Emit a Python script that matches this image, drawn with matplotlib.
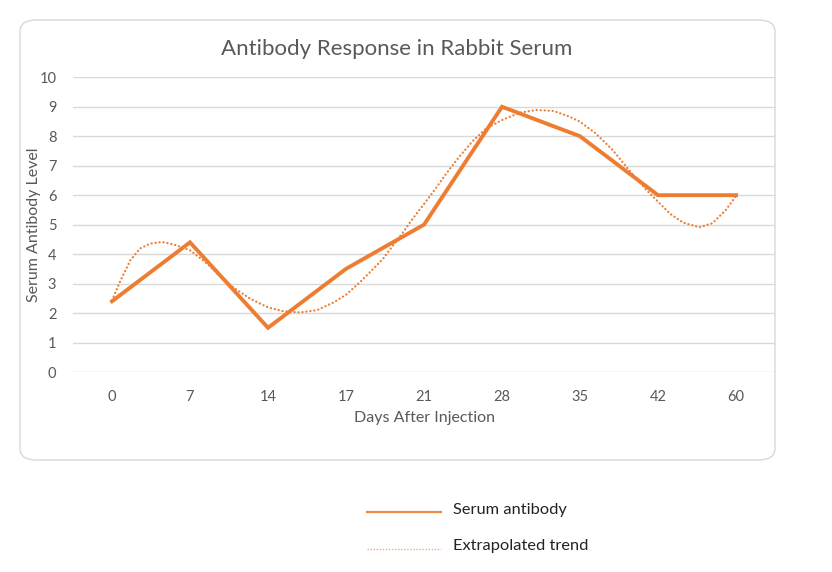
import numpy as np
import matplotlib.pyplot as plt
from matplotlib.patches import FancyBboxPatch
from matplotlib.lines import Line2D

# data
days = ["0", "7", "14", "17", "21", "28", "35", "42", "60"]
antibody = [2.4, 4.4, 1.5, 3.5, 5.0, 9.0, 8.0, 6.0, 6.0]

# trend curve, read at category positions (0 = first category)
trend_pos = [0, 0.11, 0.235, 0.36, 0.49, 0.64, 0.79, 1.0, 1.22, 1.39, 1.56, 1.77,
             2.0, 2.2, 2.41, 2.63, 2.84, 3.0, 3.18, 3.35, 3.48, 3.61, 3.74, 3.86,
             4.0, 4.12, 4.29, 4.46, 4.63, 4.8, 5.0, 5.23, 5.44, 5.66, 5.87, 6.0,
             6.2, 6.42, 6.63, 6.85, 7.0, 7.15, 7.32, 7.53, 7.7, 7.87, 8.0]
trend_val = [2.43, 3.11, 3.79, 4.19, 4.36, 4.41, 4.33, 4.13, 3.68, 3.23, 2.86, 2.49,
             2.19, 2.06, 2.02, 2.10, 2.36, 2.62, 3.05, 3.5, 3.86, 4.32, 4.77, 5.22,
             5.7, 6.12, 6.75, 7.33, 7.85, 8.27, 8.55, 8.80, 8.89, 8.86, 8.66, 8.49,
             8.10, 7.53, 6.85, 6.18, 5.78, 5.38, 5.07, 4.91, 5.05, 5.50, 5.97]

orange = "#ED7D31"
grey = "#595959"
plt.rcParams["font.family"] = ["Lato", "DejaVu Sans"]

W, H = 832, 572
fig = plt.figure(figsize=(W / 100, H / 100), dpi=100)

# rounded chart border
box = FancyBboxPatch((20 / W, 1 - 460 / H), 755 / W, 440 / H,
                     boxstyle="round,pad=0,rounding_size=0.02",
                     transform=fig.transFigure, facecolor="none",
                     edgecolor="#d9d9d9", linewidth=1.0, zorder=-1)
fig.patches.append(box)

ax = fig.add_axes([73 / W, 1 - 372 / H, 702 / W, 294.7 / H])
ax.set_facecolor("none")
x = np.arange(len(days))
ax.plot(trend_pos, trend_val, color=orange, lw=1.6, linestyle=(0, (0.1, 1.7)),
        dash_capstyle="round", zorder=3)
ax.plot(x, antibody, color=orange, lw=2.8, solid_joinstyle="miter", zorder=4)

ax.set_xlim(-0.5, len(days) - 0.5)
ax.set_ylim(0, 10)
ax.set_yticks(range(0, 11))
ax.set_xticks(x)
ax.set_xticklabels(days)
ax.grid(axis="y", color="#d9d9d9", lw=1.0)
ax.set_axisbelow(True)
for s in ax.spines.values():
    s.set_visible(False)
ax.tick_params(length=0, labelsize=10.5, labelcolor=grey)
ax.tick_params(axis="y", pad=12)
ax.tick_params(axis="x", pad=13)

fig.text(397 / W, 1 - 49 / H, "Antibody Response in Rabbit Serum",
         ha="center", va="center", fontsize=16, color=grey)
fig.text(34 / W, 1 - 225 / H, "Serum Antibody Level", rotation=90,
         ha="center", va="center", fontsize=11.5, color=grey)
fig.text(424 / W, 1 - 418 / H, "Days After Injection",
         ha="center", va="center", fontsize=11.5, color=grey)

# legend below the chart
fig.lines.append(Line2D([367 / W, 441 / W], [1 - 512 / H] * 2, transform=fig.transFigure,
                        color="#F08A4B", lw=1.6))
fig.lines.append(Line2D([367 / W, 441 / W], [1 - 549 / H] * 2, transform=fig.transFigure,
                        color="#F5A878", lw=1.0, linestyle=(0, (1, 1.2))))
fig.text(453 / W, 1 - 510 / H, "Serum antibody", ha="left", va="center",
         fontsize=11.8, color="#222222")
fig.text(453 / W, 1 - 546 / H, "Extrapolated trend", ha="left", va="center",
         fontsize=11.8, color="#222222")

fig.savefig("out.png", dpi=100)
